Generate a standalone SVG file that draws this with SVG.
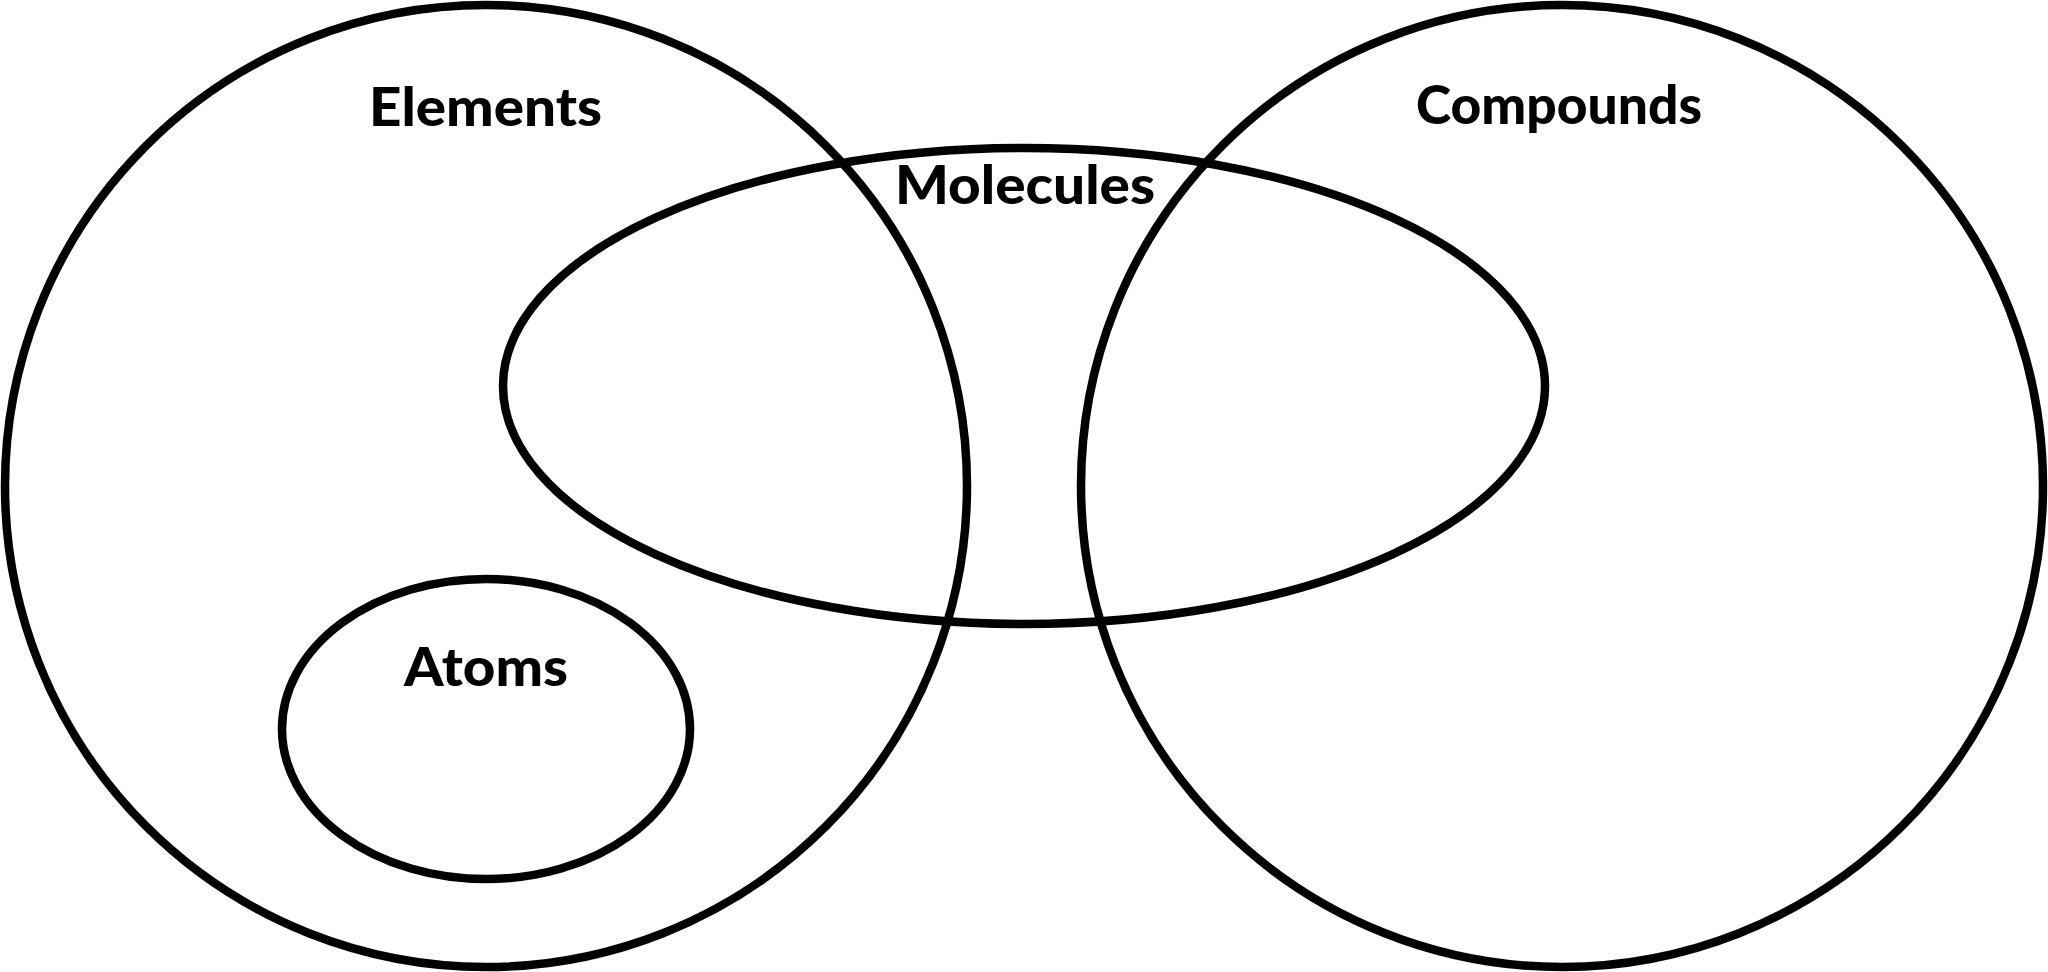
<svg xmlns="http://www.w3.org/2000/svg" width="2048" height="972" viewBox="0 0 2048 972">
<style>
.shape{fill:none;stroke:#000;stroke-width:8.5}
.lbl{font-family:Lato,"Open Sans","Liberation Sans",sans-serif;font-weight:900;font-size:54px;fill:#000}
</style>
<rect width="2048" height="972" fill="#fff"/>
<g id="elements">
<circle class="shape" cx="486" cy="486" r="481"/>
<text class="lbl" x="369" y="126" textLength="233" lengthAdjust="spacingAndGlyphs">Elements</text>
</g>
<g id="compounds">
<circle class="shape" cx="1562" cy="486" r="481"/>
<text class="lbl" x="1416" y="124" textLength="286" lengthAdjust="spacingAndGlyphs">Compounds</text>
</g>
<g id="molecules">
<ellipse class="shape" cx="1024" cy="386" rx="521" ry="238"/>
<text class="lbl" x="895" y="204" textLength="260" lengthAdjust="spacingAndGlyphs">Molecules</text>
</g>
<g id="atoms">
<ellipse class="shape" cx="486" cy="729" rx="204" ry="150"/>
<text class="lbl" x="404" y="686" textLength="164" lengthAdjust="spacingAndGlyphs">Atoms</text>
</g>
<g id="connectors"></g>
</svg>
